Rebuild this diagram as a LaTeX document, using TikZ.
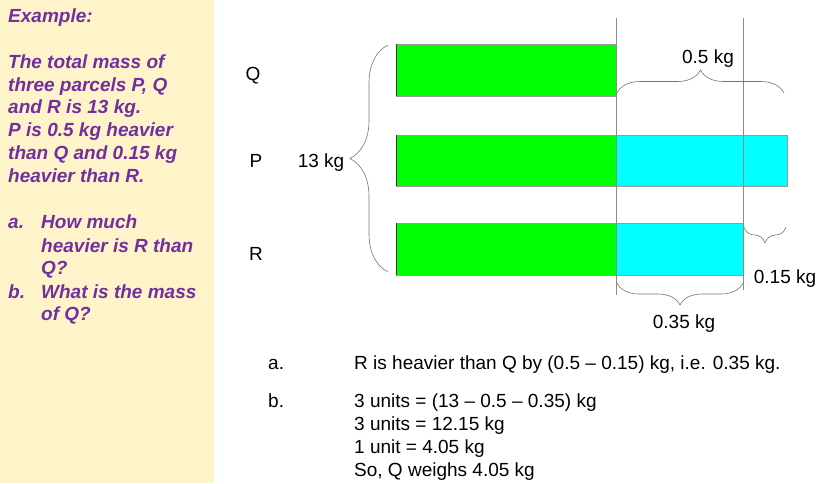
\documentclass[tikz,border=0pt]{standalone}
\usepackage{fontspec}
\setmainfont{Liberation Sans}
\usepackage{xcolor}
\usetikzlibrary{decorations.pathreplacing}

\definecolor{panel}{RGB}{255,243,201}
\definecolor{question}{RGB}{112,48,160}
\definecolor{bargreen}{RGB}{0,255,0}
\definecolor{barcyan}{RGB}{0,255,255}

\tikzset{
  qtext/.style={anchor=base west, inner sep=0pt, text=question, font=\fontsize{19}{23}\selectfont\bfseries\itshape},
  plain/.style={anchor=base west, inner sep=0pt, font=\fontsize{19}{23}\selectfont},
  midtext/.style={anchor=base, inner sep=0pt, font=\fontsize{19}{23}\selectfont},
  bar/.style={draw=gray!80, line width=0.7pt},
  guide/.style={draw=gray!90, line width=0.5pt},
  bracebig/.style={draw=gray!90!black, line width=0.6pt, decorate, decoration={brace, amplitude=#1}}
}

\begin{document}
\begin{tikzpicture}[x=1pt, y=-1pt]
\useasboundingbox (0,0) rectangle (832,483);

% question panel
\fill[panel] (0,0) rectangle (214,483);
\node[qtext] (ex) at (8,22) {Example:};
\node[qtext] (q1) at (8,68) {The total mass of};
\node[qtext] (q2) at (8,91) {three parcels P, Q};
\node[qtext] (q3) at (8,113) {and R is 13 kg.};
\node[qtext] (q4) at (8,136) {P is 0.5 kg heavier};
\node[qtext] (q5) at (8,159) {than Q and 0.15 kg};
\node[qtext] (q6) at (8,182) {heavier than R.};
\node[qtext] (qa) at (8,228) {a.};
\node[qtext] (qa1) at (41,228) {How much};
\node[qtext] (qa2) at (41,252) {heavier is R than};
\node[qtext] (qa3) at (41,274) {Q?};
\node[qtext] (qb) at (8,298) {b.};
\node[qtext] (qb1) at (41,298) {What is the mass};
\node[qtext] (qb2) at (41,320) {of Q?};

% draw some points
\node[coordinate] (Q0) at (396,44) {};
\node[coordinate] (Q1) at (616,96) {};
\node[coordinate] (P0) at (396,135) {};
\node[coordinate] (P1) at (616,186) {};
\node[coordinate] (P2) at (787,135) {};
\node[coordinate] (R0) at (396,223) {};
\node[coordinate] (R1) at (616,275) {};
\node[coordinate] (R2) at (743,223) {};

% draw the bars
\draw[bar, fill=bargreen] (Q0) rectangle (Q1);
\draw[bar, fill=bargreen] (P0) rectangle (P1);
\draw[bar, fill=bargreen] (R0) rectangle (R1);
\draw[bar, fill=barcyan] (P1) rectangle (P2);
\draw[bar, fill=barcyan] (R1) rectangle (R2);
\draw[line width=0.9pt, black!80] (Q0)--(Q0|-Q1);
\draw[line width=0.9pt, black!80] (P0)--(P0|-P1);
\draw[line width=0.9pt, black!80] (R0)--(R0|-R1);

% draw some lines
\node[coordinate] (a) at (616,18) {};
\node[coordinate] (b) at (616,295) {};
\node[coordinate] (c) at (743,18) {};
\node[coordinate] (d) at (743,290) {};
\draw[guide] (a)--(b);
\draw[guide] (c)--(d);

% braces
\node[coordinate] (e) at (388,272) {};
\node[coordinate] (f) at (388,45) {};
\node[coordinate] (g) at (617,93) {};
\node[coordinate] (h) at (784,93) {};
\node[coordinate] (i) at (786,227) {};
\node[coordinate] (j) at (744,227) {};
\node[coordinate] (k) at (743,283) {};
\node[coordinate] (l) at (617,283) {};

\draw[bracebig=38pt] (e)--(f);
\draw[bracebig=23pt] (g)--(h);
\draw[bracebig=16pt] (i)--(j);
\draw[bracebig=22pt] (k)--(l);

% labels
\node[midtext] (lq) at (253,80) {Q};
\node[midtext] (lp) at (256,167) {P};
\node[midtext] (lr) at (256,260) {R};
\node[midtext] (total) at (321,167) {13 kg};
\node[midtext] (half) at (708,63) {0.5 kg};
\node[midtext] (diffpr) at (785,283) {0.15 kg};
\node[midtext] (diffrq) at (684,328) {0.35 kg};

% working
\node[plain] (wa) at (268,369) {a.};
\node[plain] (wa1) at (354,369) {R is heavier than Q by (0.5 – 0.15) kg, i.e. 0.35 kg.};
\node[plain] (wb) at (268,407) {b.};
\node[plain] (wb1) at (354,407) {3 units = (13 – 0.5 – 0.35) kg};
\node[plain] (wb2) at (354,430) {3 units = 12.15 kg};
\node[plain] (wb3) at (354,453) {1 unit = 4.05 kg};
\node[plain] (wb4) at (354,476) {So, Q weighs 4.05 kg};

\end{tikzpicture}
\end{document}
